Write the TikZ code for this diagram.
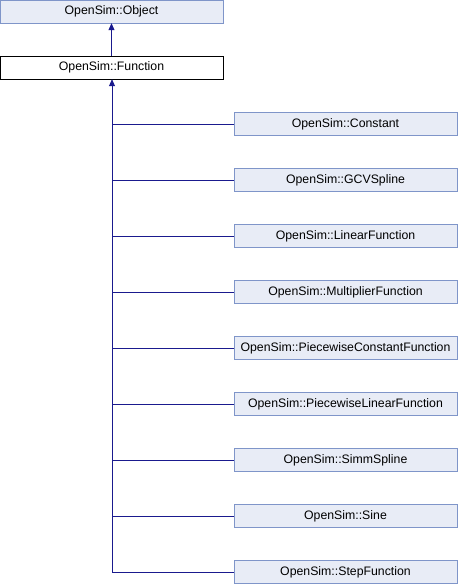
\documentclass[tikz,border=0pt]{standalone}
\usepackage{fontspec}
\setmainfont{Liberation Sans}
\usetikzlibrary{arrows.meta}
\definecolor{boxfill}{HTML}{E8ECF6}
\definecolor{boxline}{HTML}{7F95C9}
\definecolor{linkblue}{HTML}{1A1A8E}

\begin{document}
\begin{tikzpicture}[x=1pt, y=-1pt, >= {Triangle[length=7pt, width=6pt]},
    cls/.style = {draw = boxline, fill = boxfill, minimum width = 223pt, minimum height = 23pt, inner sep = 0pt, font = \fontsize{12.3}{14}\selectfont},
    cur/.style = {cls, draw = black, fill = white},
    link/.style = {draw = linkblue, fill = linkblue, thick}]
    \useasboundingbox (0, 0) rectangle (458, 584);

    \node [cls] (object) at (111.5, 11.5) {OpenSim::Object};
    \node [cur] (function) at (111.5, 67.5) {OpenSim::Function};
    \draw [link, ->] (function) -- (object);

    %%%%%%%%%%%%%%%%%%%%
    \foreach \name [count = \i] in {Constant, GCVSpline, LinearFunction, MultiplierFunction, PiecewiseConstantFunction, PiecewiseLinearFunction, SimmSpline, Sine, StepFunction} {
        \node [cls] (child\i) at (345.5, 68 + 56*\i) {OpenSim::\name};
        \coordinate (join\i) at (112, 68 + 56*\i);
        \draw [link] (join\i) -- (child\i.west);
    }
    \draw [link, ->] (join9) -- (function.south -| join9);
\end{tikzpicture}
\end{document}
